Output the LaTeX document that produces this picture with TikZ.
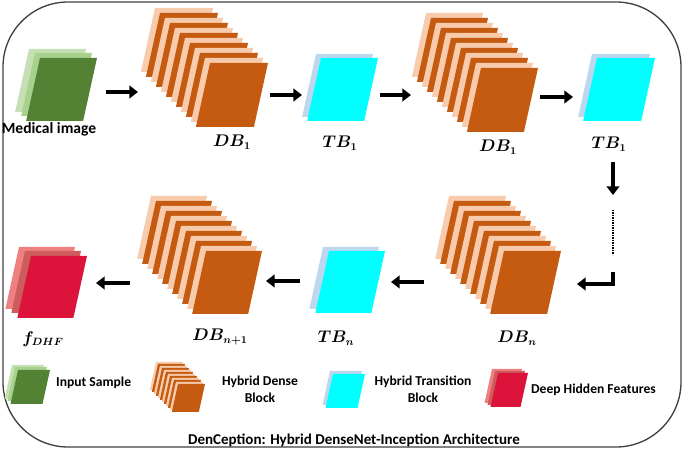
\documentclass[tikz,border=0pt]{standalone}
\usepackage{fontspec}
\setmainfont{Carlito}
\usetikzlibrary{arrows.meta}

% one slanted sheet: colour, top-left x, top-left y, width, height
\newcommand{\sheet}[5]{%
	\fill[#1] (#2-0.22*#5, #3+#5) -- (#2+#4-0.22*#5, #3+#5) -- (#2+#4, #3) -- (#2, #3) -- cycle;}

% stack of six dense sheets: front top-left x, y, width, height, step
\newcommand{\denseblock}[5]{%
	\foreach \k in {5,...,0}{
		\sheet{peach}{#1-\k*#5-0.5*#5}{#2-\k*#5-0.5*#5}{#3}{#4}
		\sheet{dense}{#1-\k*#5}{#2-\k*#5}{#3}{#4}
	}}

\begin{document}
\begin{tikzpicture}[x = 0.3mm, y = -0.3mm,
						flow/.style = {line width = 1mm, -{Triangle[length = 2.6mm, width = 3.8mm]}},
						blocklabel/.style = {font = \fontsize{13.5}{15}\selectfont\boldmath},
						legendtext/.style = {font = \fontsize{11.6}{14.5}\selectfont\bfseries, align = center},
						]
	
		\definecolor{greenfront}{HTML}{548235}
		\definecolor{greenmid}{HTML}{A9D18E}
		\definecolor{greenback}{HTML}{C5E0B4}
		\definecolor{dense}{HTML}{C55A11}
		\definecolor{peach}{HTML}{F8CBAD}
		\definecolor{trans}{HTML}{00FFFF}
		\definecolor{transback}{HTML}{BDD7EE}
		\definecolor{hidden}{HTML}{DC143C}
		\definecolor{hiddenmid}{HTML}{CD5C5C}
		\definecolor{hiddenback}{HTML}{F08080}
		
		\useasboundingbox (0, 0) rectangle (685, 451);
		
		% Outer frame
		\draw[line width = 0.4mm, black!75, rounded corners = 19.5mm] (3, 2) rectangle (681, 447);
		
		% Top row: medical image
		\sheet{greenback}{29}{49}{57}{63}
		\sheet{greenmid}{35}{53}{57}{63}
		\sheet{greenfront}{40}{58}{57}{63}
		\node[font = \fontsize{13.3}{15}\selectfont\bfseries] (lblmed) at (49, 129) {Medical image};
		
		% Top row: blocks
		\denseblock{210}{63}{58}{64}{10}
		\node[blocklabel] (lbldbone) at (232, 142) {$DB_1$};
		
		\sheet{transback}{316}{54}{57}{63}
		\sheet{trans}{321}{58}{57}{63}
		\node[blocklabel] (lbltbone) at (340, 143) {$TB_1$};
		
		\denseblock{481}{68}{57}{64}{10}
		\node[blocklabel] (lbldbtwo) at (498, 147) {$DB_1$};
		
		\sheet{transback}{592}{54}{58}{63}
		\sheet{trans}{597}{58}{58}{63}
		\node[blocklabel] (lbltbtwo) at (609, 144) {$TB_1$};
		
		% Bottom row: blocks
		\denseblock{504}{251}{57}{63}{10}
		\node[blocklabel] (lbldbn) at (517, 338) {$DB_n$};
		
		\sheet{transback}{323}{247}{56}{62}
		\sheet{trans}{329}{251}{56}{62}
		\node[blocklabel] (lbltbn) at (336, 338) {$TB_n$};
		
		\denseblock{206}{251}{56}{63}{10}
		\node[blocklabel] (lbldbnext) at (220, 337) {$DB_{n+1}$};
		
		% Bottom row: deep hidden features
		\sheet{hiddenback}{19}{247}{56}{62}
		\sheet{hiddenmid}{25}{251}{56}{62}
		\sheet{hidden}{31}{256}{56}{62}
		\node[blocklabel] (lbldhf) at (43, 339) {$f_{DHF}$};
		
		% Arrows
		\coordinate (aones) at (106, 92);
		\coordinate (aonee) at (138, 92);
		\coordinate (atwos) at (270, 95);
		\coordinate (atwoe) at (302, 95);
		\coordinate (athrees) at (380, 95);
		\coordinate (athreee) at (411, 95);
		\coordinate (afours) at (540, 97);
		\coordinate (afoure) at (573, 97);
		\coordinate (downs) at (613, 162);
		\coordinate (downe) at (613, 195);
		\coordinate (dots) at (613, 210);
		\coordinate (dote) at (613, 255);
		\coordinate (rets) at (613, 272);
		\coordinate (rete) at (577, 284);
		\coordinate (afives) at (424, 282);
		\coordinate (afivee) at (391, 282);
		\coordinate (asixs) at (300, 281);
		\coordinate (asixe) at (266, 281);
		\coordinate (asevens) at (130, 283);
		\coordinate (asevene) at (96, 283);
		
		\draw[flow] (aones) -- (aonee);
		\draw[flow] (atwos) -- (atwoe);
		\draw[flow] (athrees) -- (athreee);
		\draw[flow] (afours) -- (afoure);
		\draw[flow] (downs) -- (downe);
		\draw[line width = 0.45mm, dash pattern = on 0.4mm off 0.35mm] (dots) -- (dote);
		\draw[flow] (rets) |- (rete);
		\draw[flow] (afives) -- (afivee);
		\draw[flow] (asixs) -- (asixe);
		\draw[flow] (asevens) -- (asevene);
		
		% Legend
		\sheet{greenback}{12}{365}{32}{34}
		\sheet{greenmid}{15}{367}{32}{34}
		\sheet{greenfront}{18}{370}{32}{34}
		\node[legendtext, anchor = west] (lgin) at (52, 383) {Input Sample};
		
		\denseblock{178}{384}{27}{28}{4}
		\node[legendtext] (lgdb) at (260, 389) {Hybrid Dense\\Block};
		
		\sheet{transback}{330}{371}{32}{34}
		\sheet{trans}{333}{374}{32}{34}
		\node[legendtext] (lgtb) at (423, 389) {Hybrid Transition\\Block};
		
		\sheet{hiddenback}{492}{369}{30}{34}
		\sheet{hiddenmid}{495}{371}{30}{34}
		\sheet{hidden}{498}{373}{30}{34}
		\node[legendtext, anchor = west] (lgdhf) at (527, 390) {Deep Hidden Features};
		
		\node[legendtext, font = \fontsize{12.8}{15}\selectfont\bfseries] (title) at (354, 440) {DenCeption: Hybrid DenseNet-Inception Architecture};
		
	\end{tikzpicture}
\end{document}
